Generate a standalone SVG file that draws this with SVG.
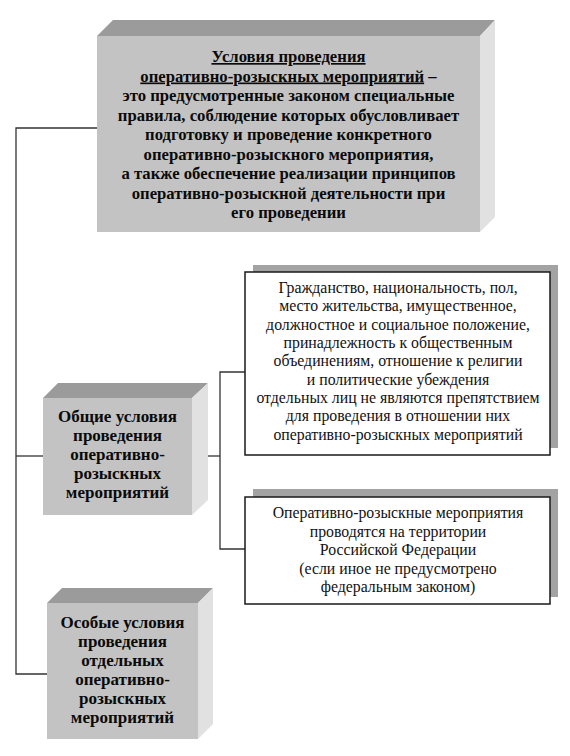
<svg xmlns="http://www.w3.org/2000/svg" width="570" height="756" viewBox="0 0 570 756">
<style>
.front{fill:#c3c3c3}
.top{fill:#9b9b9b}
.side{fill:#e1e1e1}
.shadow{fill:#a3a3a3}
.card{fill:#ffffff;stroke:#1a1a1a;stroke-width:1.5}
.conn{fill:none;stroke:#333333;stroke-width:1.3}
.b{font-family:'Liberation Serif','Times New Roman',serif;font-weight:bold;font-size:17px;fill:#0a0a0a;text-anchor:middle}
.bt{font-size:16.7px}
.r{font-family:'Liberation Serif','Times New Roman',serif;font-size:15.8px;fill:#111111;text-anchor:middle}
</style>
<rect width="570" height="756" fill="#ffffff"/>
<g id="connectors">
<polyline class="conn" points="97,128 16,128 16,674 47,674"/>
<line class="conn" x1="16" y1="456" x2="43" y2="456"/>
<line class="conn" x1="192" y1="456" x2="220" y2="456"/>
<polyline class="conn" points="245,372 220,372 220,549 245,549"/>
</g>
<g id="definition">
<polygon class="top" points="97,36 113,20 495,20 480,36"/>
<polygon class="side" points="480,36 495,20 495,217 480,232"/>
<rect class="front" x="97" y="36" width="383" height="196"/>
<text class="b bt" x="288.5" y="62"><tspan text-decoration="underline">Условия проведения</tspan></text>
<text class="b bt" x="288.5" y="81.5"><tspan text-decoration="underline">оперативно-розыскных мероприятий</tspan> –</text>
<text class="b bt" x="288.5" y="101">это предусмотренные законом специальные</text>
<text class="b bt" x="288.5" y="120.5">правила, соблюдение которых обусловливает</text>
<text class="b bt" x="288.5" y="140">подготовку и проведение конкретного</text>
<text class="b bt" x="288.5" y="159.5">оперативно-розыскного мероприятия,</text>
<text class="b bt" x="288.5" y="179">а также обеспечение реализации принципов</text>
<text class="b bt" x="288.5" y="198.5">оперативно-розыскной деятельности при</text>
<text class="b bt" x="288.5" y="218">его проведении</text>
</g>
<g id="general">
<polygon class="top" points="43,398 58,383 208,383 192,398"/>
<polygon class="side" points="192,398 208,383 208,500 192,515"/>
<rect class="front" x="43" y="398" width="149" height="117"/>
<text class="b" x="117.5" y="422">Общие условия</text>
<text class="b" x="117.5" y="441">проведения</text>
<text class="b" x="117.5" y="460">оперативно-</text>
<text class="b" x="117.5" y="479">розыскных</text>
<text class="b" x="117.5" y="498">мероприятий</text>
</g>
<g id="special">
<polygon class="top" points="47,603 62,588 213,588 198,603"/>
<polygon class="side" points="198,603 213,588 213,724 198,739"/>
<rect class="front" x="47" y="603" width="151" height="136"/>
<text class="b" x="122.5" y="628">Особые условия</text>
<text class="b" x="122.5" y="647">проведения</text>
<text class="b" x="122.5" y="666">отдельных</text>
<text class="b" x="122.5" y="685">оперативно-</text>
<text class="b" x="122.5" y="704">розыскных</text>
<text class="b" x="122.5" y="723">мероприятий</text>
</g>
<g id="equality">
<rect class="shadow" x="253" y="265" width="305" height="183"/>
<rect class="card" x="245" y="272" width="305" height="183"/>
<text class="r" x="398" y="293">Гражданство, национальность, пол,</text>
<text class="r" x="398" y="311.3">место жительства, имущественное,</text>
<text class="r" x="398" y="329.6">должностное и социальное положение,</text>
<text class="r" x="398" y="348">принадлежность к общественным</text>
<text class="r" x="398" y="366.3">объединениям, отношение к религии</text>
<text class="r" x="398" y="384.6">и политические убеждения</text>
<text class="r" x="398" y="403">отдельных лиц не являются препятствием</text>
<text class="r" x="398" y="421.3">для проведения в отношении них</text>
<text class="r" x="398" y="439.6">оперативно-розыскных мероприятий</text>
</g>
<g id="territory">
<rect class="shadow" x="253" y="489" width="305" height="108"/>
<rect class="card" x="245" y="497" width="305" height="107"/>
<text class="r" x="398" y="518">Оперативно-розыскные мероприятия</text>
<text class="r" x="398" y="536.5">проводятся на территории</text>
<text class="r" x="398" y="555">Российской Федерации</text>
<text class="r" x="398" y="573.5">(если иное не предусмотрено</text>
<text class="r" x="398" y="592">федеральным законом)</text>
</g>
</svg>
